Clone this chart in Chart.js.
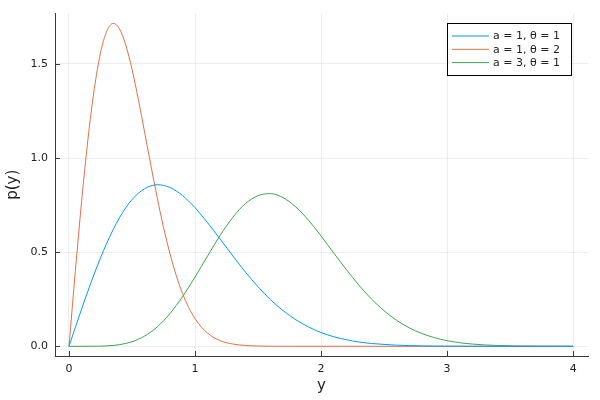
<!DOCTYPE html>
<html>
<head>
<meta charset="utf-8">
<script src="https://cdn.jsdelivr.net/npm/chart.js@4"></script>
<style>
  html, body { margin: 0; padding: 0; background: #fff; }
  #wrap { width: 600px; height: 400px; }
</style>
</head>
<body>
<div id="wrap"><canvas id="chart" width="600" height="400"></canvas></div>
<script>
// values
const yGrid = [0, 0.1, 0.2, 0.3, 0.4, 0.5, 0.6, 0.7, 0.8, 0.9, 1.0, 1.1, 1.2, 1.3, 1.4, 1.5, 1.6, 1.7, 1.8, 1.9,
  2.0, 2.1, 2.2, 2.3, 2.4, 2.5, 2.6, 2.7, 2.8, 2.9, 3.0, 3.1, 3.2, 3.3, 3.4, 3.5, 3.6, 3.7, 3.8, 3.9, 4.0];
const pA1T1 = [0, 0.198, 0.384, 0.548, 0.682, 0.779, 0.837, 0.858, 0.844, 0.801, 0.736, 0.656, 0.569, 0.480, 0.394,
  0.316, 0.247, 0.189, 0.141, 0.103, 0.073, 0.051, 0.035, 0.023, 0.015, 0.010, 0.006, 0.004, 0.002, 0.001, 0.0007,
  0.0004, 0.0002, 0.0001, 0, 0, 0, 0, 0, 0, 0];
const pA3T1 = [0, 0.00001, 0.0003, 0.0022, 0.0087, 0.0243, 0.0543, 0.103, 0.173, 0.263, 0.368, 0.480, 0.590, 0.685,
  0.758, 0.800, 0.811, 0.789, 0.740, 0.670, 0.586, 0.496, 0.408, 0.325, 0.251, 0.189, 0.138, 0.098, 0.068, 0.046,
  0.030, 0.019, 0.012, 0.0073, 0.0043, 0.0025, 0.0014, 0.0008, 0.0004, 0.0002, 0.0001];

const yGrid2 = [0, 0.05, 0.1, 0.15, 0.2, 0.25, 0.3, 0.35, 0.4, 0.45, 0.5, 0.55, 0.6, 0.65, 0.7, 0.75, 0.8, 0.85,
  0.9, 0.95, 1.0, 1.05, 1.1, 1.15, 1.2, 1.25, 1.3, 1.35, 1.4, 1.45, 1.5, 1.6, 1.7, 1.8, 2.0, 2.5, 3.0, 3.5, 4.0];
const pA1T2 = [0, 0.396, 0.769, 1.097, 1.363, 1.558, 1.674, 1.715, 1.687, 1.601, 1.472, 1.312, 1.137, 0.960, 0.789,
  0.632, 0.495, 0.378, 0.282, 0.206, 0.147, 0.102, 0.070, 0.046, 0.030, 0.019, 0.012, 0.0074, 0.0044, 0.0026,
  0.0014, 0.0004, 0.0001, 0, 0, 0, 0, 0, 0];

const seriesLabels = ['a = 1, θ = 1', 'a = 1, θ = 2', 'a = 3, θ = 1'];
const seriesColors = ['#009AFA', '#E36F47', '#3EA44E'];

const xTicks = [0, 1, 2, 3, 4];
const yTicks = [0, 0.5, 1.0, 1.5];
const yTickLabels = ['0.0', '0.5', '1.0', '1.5'];

const axisColor = '#3a3a3a';
const gridColor = 'rgba(0,0,0,0.07)';
const textColor = '#222';

function pts(xs, ys) {
  return xs.map((x, i) => ({ x: x, y: ys[i] }));
}

// Plots-style inward tick marks
const innerTicks = {
  id: 'innerTicks',
  afterDatasetsDraw(chart) {
    const { ctx, chartArea, scales } = chart;
    ctx.save();
    ctx.strokeStyle = axisColor;
    ctx.lineWidth = 1;
    ctx.beginPath();
    xTicks.forEach(v => {
      const px = Math.round(scales.x.getPixelForValue(v)) + 0.5;
      ctx.moveTo(px, chartArea.bottom);
      ctx.lineTo(px, chartArea.bottom - 5);
    });
    yTicks.forEach(v => {
      const py = Math.round(scales.y.getPixelForValue(v)) + 0.5;
      ctx.moveTo(chartArea.left, py);
      ctx.lineTo(chartArea.left + 5, py);
    });
    ctx.stroke();
    ctx.restore();
  }
};

// boxed legend in the top right corner
const boxLegend = {
  id: 'boxLegend',
  afterDraw(chart) {
    const ctx = chart.ctx;
    const x0 = 447, y0 = 23, w = 124, h = 52;
    ctx.save();
    ctx.fillStyle = '#fff';
    ctx.fillRect(x0, y0, w, h);
    ctx.strokeStyle = '#000';
    ctx.lineWidth = 1;
    ctx.strokeRect(x0 + 0.5, y0 + 0.5, w, h);
    ctx.font = '11px "DejaVu Sans"';
    ctx.textBaseline = 'middle';
    chart.data.datasets.forEach((ds, i) => {
      const yy = y0 + 13 + i * 13.3;
      ctx.strokeStyle = ds.borderColor;
      ctx.beginPath();
      ctx.moveTo(x0 + 5, yy);
      ctx.lineTo(x0 + 42, yy);
      ctx.stroke();
      ctx.fillStyle = textColor;
      ctx.fillText(ds.label, x0 + 46, yy + 0.5);
    });
    ctx.restore();
  }
};

new Chart(document.getElementById('chart'), {
  type: 'line',
  data: {
    datasets: [
      { label: seriesLabels[0], data: pts(yGrid, pA1T1), borderColor: seriesColors[0] },
      { label: seriesLabels[1], data: pts(yGrid2, pA1T2), borderColor: seriesColors[1] },
      { label: seriesLabels[2], data: pts(yGrid, pA3T1), borderColor: seriesColors[2] }
    ]
  },
  options: {
    responsive: false,
    animation: false,
    layout: { padding: { top: 12, right: 12, left: 4, bottom: 5 } },
    elements: {
      point: { radius: 0 },
      line: { borderWidth: 1, cubicInterpolationMode: 'monotone', fill: false }
    },
    plugins: { legend: { display: false }, tooltip: { enabled: false } },
    scales: {
      x: {
        type: 'linear',
        min: -0.111,
        max: 4.118,
        afterBuildTicks: s => { s.ticks = xTicks.map(v => ({ value: v })); },
        afterFit: s => { s.height = 39; },
        grid: { color: gridColor, drawTicks: false },
        border: { color: axisColor, width: 1 },
        ticks: { padding: 7, color: textColor, font: { family: 'DejaVu Sans', size: 11 }, maxRotation: 0,
          callback: v => String(v) },
        title: { display: true, text: 'y', color: textColor, font: { family: 'DejaVu Sans', size: 15 },
          padding: { top: 2, bottom: 0 } }
      },
      y: {
        type: 'linear',
        min: -0.0515,
        max: 1.767,
        afterBuildTicks: s => { s.ticks = yTicks.map(v => ({ value: v })); },
        afterFit: s => { s.width = 51; },
        grid: { color: gridColor, drawTicks: false },
        border: { color: axisColor, width: 1 },
        ticks: { padding: 7, color: textColor, font: { family: 'DejaVu Sans', size: 11 },
          callback: v => yTickLabels[yTicks.indexOf(v)] },
        title: { display: true, text: 'p(y)', color: textColor, font: { family: 'DejaVu Sans', size: 15 },
          padding: { top: 0, bottom: 2 } }
      }
    }
  },
  plugins: [innerTicks, boxLegend]
});
</script>
</body>
</html>
